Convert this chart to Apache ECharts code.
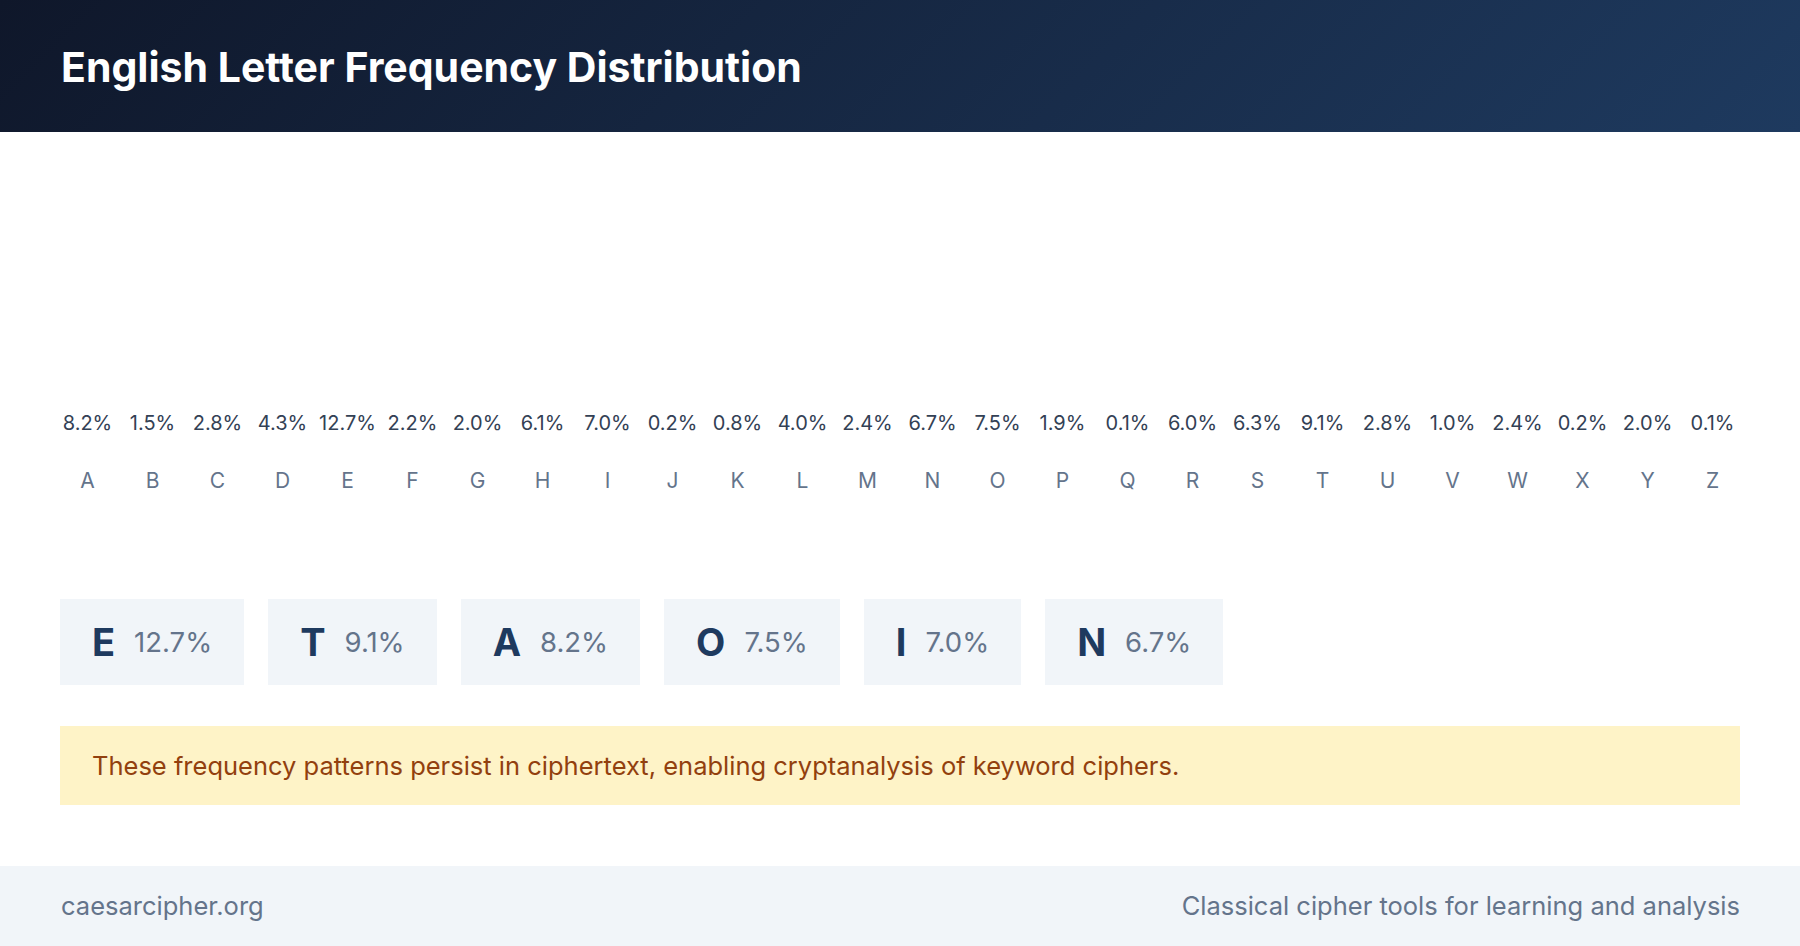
<!DOCTYPE html>
<html>
<head>
<meta charset="utf-8">
<script src="https://cdn.jsdelivr.net/npm/echarts@6/dist/echarts.min.js"></script>
<style>
  html, body { margin: 0; padding: 0; width: 1800px; height: 946px; overflow: hidden; background: #ffffff; font-family: Inter, "Noto Sans", sans-serif; }
  #header { position: absolute; left: 0; top: 0; width: 1800px; height: 132px; background: linear-gradient(135deg, #0f172a 0%, #1e3a5f 100%); }
  #title { position: absolute; left: 61px; top: 1px; height: 132px; line-height: 132px; color: #ffffff; font-size: 41px; font-weight: 700; letter-spacing: 0px; }
  #chart { position: absolute; left: 0; top: 132px; width: 1800px; height: 460px; }
  #top { position: absolute; left: 60px; top: 599px; display: flex; gap: 24px; }
  .box { height: 86px; background: #f1f5f9; display: flex; align-items: center; padding: 0 32px; gap: 19px; box-sizing: border-box; }
  .box .l { font-size: 38px; font-weight: 700; color: #1e3a5f; }
  .box .p { font-size: 27.5px; color: #64748b; }
  #note { position: absolute; left: 60px; top: 726px; width: 1680px; height: 79px; background: #fef3c7; color: #92400e; font-size: 25.5px; line-height: 79px; padding-left: 32px; box-sizing: border-box; }
  #footer { position: absolute; left: 0; top: 866px; width: 1800px; height: 80px; background: #f1f5f9; color: #64748b; font-size: 25.5px; line-height: 80px; }
  #footer .fl { position: absolute; left: 61px; }
  #footer .fr { position: absolute; right: 60px; }
</style>
</head>
<body>
<div id="header"><div id="title">English Letter Frequency Distribution</div></div>
<div id="chart"></div>
<div id="top"></div>
<div id="note">These frequency patterns persist in ciphertext, enabling cryptanalysis of keyword ciphers.</div>
<div id="footer"><span class="fl">caesarcipher.org</span><span class="fr">Classical cipher tools for learning and analysis</span></div>
<script>
const letters = ["A","B","C","D","E","F","G","H","I","J","K","L","M","N","O","P","Q","R","S","T","U","V","W","X","Y","Z"];
const frequencies = [8.2,1.5,2.8,4.3,12.7,2.2,2.0,6.1,7.0,0.2,0.8,4.0,2.4,6.7,7.5,1.9,0.1,6.0,6.3,9.1,2.8,1.0,2.4,0.2,2.0,0.1];
const topCount = 6;

// Top letters boxes
const ranked = letters.map((l, i) => ({ l, v: frequencies[i] })).sort((a, b) => b.v - a.v).slice(0, topCount);
const topEl = document.getElementById('top');
ranked.forEach(d => {
  const b = document.createElement('div');
  b.className = 'box';
  b.innerHTML = '<span class="l">' + d.l + '</span><span class="p">' + d.v.toFixed(1) + '%</span>';
  topEl.appendChild(b);
});

const chart = echarts.init(document.getElementById('chart'), null, { renderer: 'svg' });
chart.setOption({
  animation: false,
  grid: { left: 55, width: 1690, top: 306, height: 0 },
  xAxis: {
    type: 'category',
    data: letters,
    axisLine: { show: false },
    axisTick: { show: false },
    axisLabel: { color: '#64748b', fontSize: 21, margin: 32, fontFamily: 'Inter' }
  },
  yAxis: { type: 'value', min: 0, show: false, splitLine: { show: false } },
  series: [{
    type: 'bar',
    data: frequencies,
    barWidth: 40,
    itemStyle: { color: '#1e3a5f' },
    label: {
      show: true,
      position: 'top',
      distance: 5,
      color: '#334155',
      fontSize: 20,
      fontFamily: 'Inter',
      formatter: p => p.value.toFixed(1) + '%'
    }
  }]
});
</script>
</body>
</html>
